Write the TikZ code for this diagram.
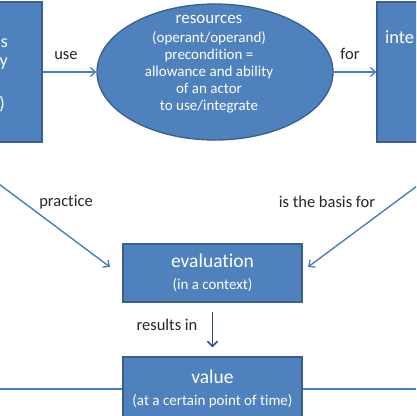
\documentclass[tikz,border=0pt]{standalone}
\usepackage{fontspec}
\setmainfont[Ligatures=NoCommon]{Carlito}
\usetikzlibrary{arrows.meta,shapes.geometric}
\definecolor{boxfill}{HTML}{4F81BD}
\definecolor{boxline}{HTML}{3A5F8C}
\definecolor{arrowc}{HTML}{4A7EBB}
\definecolor{darkarrow}{HTML}{2F5283}
\tikzset{
  bluebox/.style={draw=boxline, line width=1.3pt, fill=boxfill, text=white, inner sep=0pt, align=center},
  whitetxt/.style={text=white, inner sep=0pt},
  conn/.style={draw=arrowc, line width=1.4pt, -{Straight Barb[length=5pt,width=9pt,line width=1.3pt]}},
  plainline/.style={draw=arrowc, line width=1.4pt},
  lbl/.style={font=\fontsize{16.5}{19}\selectfont, text=black!85, inner sep=0pt}
}
\begin{document}
\begin{tikzpicture}[x=1pt,y=-1pt]
\useasboundingbox (0,0) rectangle (416,416);
\clip (0,0) rectangle (416,416);
\fill[white] (0,0) rectangle (416,416);
% boxes
\node[bluebox, minimum width=62, minimum height=140] (lbox) at (11,72) {};
\node[bluebox, minimum width=60, minimum height=140] (rbox) at (407,72) {};
\node[bluebox, ellipse, minimum width=236, minimum height=136] (res) at (215,72) {};
\node[whitetxt, align=center, font=\fontsize{15}{17}\selectfont] (restext) at (209,64)
  {{\fontsize{17}{17}\selectfont resources}\\[1.5pt](operant/operand)\\precondition =\\allowance and ability\\of an actor\\to use/integrate};
\node[bluebox, minimum width=179, minimum height=58, font=\fontsize{15}{22}\selectfont] (eval) at (212.5,273)
  {{\fontsize{19.5}{22}\selectfont evaluation}\\(in a context)};
\node[bluebox, minimum width=179, minimum height=64, font=\fontsize{15}{22}\selectfont] (val) at (212.5,389)
  {{\fontsize{19.5}{22}\selectfont value}\\(at a certain point of time)};
% cut-off texts in outer boxes
\node[whitetxt, anchor=east, font=\fontsize{18}{20}\selectfont] (ls) at (8,43) {s};
\node[whitetxt, anchor=east, font=\fontsize{18}{20}\selectfont] (ly) at (8,64) {y};
\node[whitetxt, anchor=east, font=\fontsize{18}{20}\selectfont] (lp) at (5,104) {)};
\node[whitetxt, anchor=west, font=\fontsize{18.5}{20}\selectfont] (ri) at (385,37) {inte};
% coordinates for off-picture ends
\coordinate (lstart) at (-56,143);
\coordinate (lend) at (110,267);
\coordinate (rstart) at (475,143);
\coordinate (rend) at (308,267);
\coordinate (hl) at (0,389);
\coordinate (hr) at (416,389);
% connectors
\draw[conn] (lbox.east |- 0,72) -- (res.west |- 0,72);
\draw[conn] (res.east |- 0,72) -- (rbox.west |- 0,72);
\draw[conn] (lstart) -- (lend);
\draw[conn] (rstart) -- (rend);
\draw[draw=darkarrow, line width=1.8pt, -{Straight Barb[length=5pt,width=10pt,line width=1.6pt]}, shorten <=9pt, shorten >=9pt] (eval.south) -- (val.north);
\draw[plainline] (hl) -- (val.west);
\draw[plainline] (val.east) -- (hr);
% labels
\node[lbl] (use) at (66,56) {use};
\node[lbl] (for) at (350,54) {for};
\node[lbl] (prac) at (66,202) {practice};
\node[lbl] (basis) at (327,202) {is the basis for};
\node[lbl] (resin) at (167,325) {results in};
\end{tikzpicture}
\end{document}
